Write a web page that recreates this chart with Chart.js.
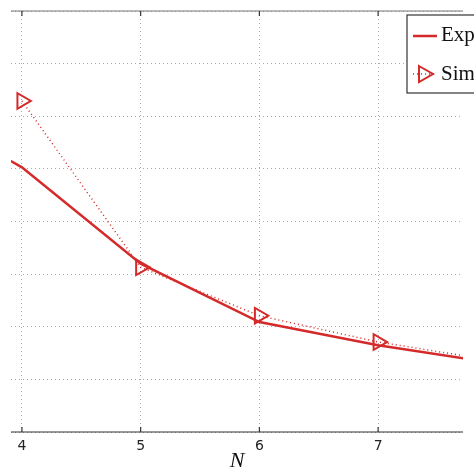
<!DOCTYPE html>
<html>
<head>
<meta charset="UTF-8">
<script src="https://cdn.jsdelivr.net/npm/chart.js"></script>
<style>
  html, body { margin: 0; padding: 0; background: #fff; }
  #wrap { width: 474px; height: 474px; }
</style>
</head>
<body>
<div id="wrap"><canvas id="c"></canvas></div>
<script>
// values (y axis has no visible labels, arbitrary units)
const expN = [3, 4, 5, 6, 7, 8];
const expVal = [6.3, 5.03, 3.2, 2.09, 1.65, 1.3];
const simN = [4, 5, 6, 7, 8];
const simVal = [6.29, 3.13, 2.21, 1.71, 1.35];
const xTicks = [4, 5, 6, 7];

const red = '#d42a2a';

const frame = {
  id: 'frame',
  afterDraw(chart) {
    const { ctx, chartArea: a } = chart;
    ctx.save();
    ctx.strokeStyle = '#777';
    ctx.lineWidth = 1.2;
    ctx.beginPath(); ctx.moveTo(a.left, a.top); ctx.lineTo(a.right, a.top); ctx.stroke();
    ctx.strokeStyle = '#333';
    ctx.beginPath(); ctx.moveTo(a.left, a.bottom); ctx.lineTo(a.right, a.bottom); ctx.stroke();
    // tick marks inward
    const xs = chart.scales.x;
    xTicks.forEach(v => {
      const px = xs.getPixelForValue(v);
      ctx.beginPath(); ctx.moveTo(px, a.bottom); ctx.lineTo(px, a.bottom - 5); ctx.stroke();
      ctx.beginPath(); ctx.moveTo(px, a.top); ctx.lineTo(px, a.top + 5); ctx.stroke();
    });
    // legend box
    ctx.fillStyle = '#fff';
    ctx.fillRect(407, 15, 80, 78);
    ctx.strokeStyle = '#333';
    ctx.lineWidth = 1.2;
    ctx.strokeRect(407, 15, 80, 78);
    ctx.strokeStyle = red;
    ctx.lineWidth = 2.5;
    ctx.beginPath(); ctx.moveTo(413, 36); ctx.lineTo(437, 36); ctx.stroke();
    ctx.lineWidth = 1.5;
    ctx.setLineDash([1, 3]);
    ctx.beginPath(); ctx.moveTo(413, 74); ctx.lineTo(437, 74); ctx.stroke();
    ctx.setLineDash([]);
    ctx.lineWidth = 2;
    ctx.beginPath(); ctx.moveTo(419, 66); ctx.lineTo(433, 74); ctx.lineTo(419, 82); ctx.closePath(); ctx.stroke();
    ctx.fillStyle = '#111';
    ctx.font = '21px "Liberation Serif"';
    ctx.textBaseline = 'middle';
    ctx.fillText('Experiment', 441, 35);
    ctx.fillText('Simulation', 441, 74);
    ctx.restore();
  }
};

new Chart(document.getElementById('c'), {
  type: 'scatter',
  data: {
    datasets: [
      {
        label: 'Experiment',
        data: expN.map((n, i) => ({ x: n, y: expVal[i] })),
        showLine: true,
        borderColor: red,
        borderWidth: 2.5,
        pointRadius: 0
      },
      {
        label: 'Simulation',
        data: simN.map((n, i) => ({ x: n, y: simVal[i] })),
        showLine: true,
        borderColor: red,
        borderWidth: 1.5,
        borderDash: [1, 3],
        pointStyle: 'triangle',
        rotation: 90,
        pointRadius: 9,
        pointBorderWidth: 2,
        pointBackgroundColor: 'rgba(0,0,0,0)',
        pointBorderColor: red
      }
    ]
  },
  options: {
    responsive: true,
    maintainAspectRatio: false,
    animation: false,
    layout: { padding: { top: 10, left: 0, right: 0, bottom: 0 } },
    plugins: { legend: { display: false }, tooltip: { enabled: false } },
    scales: {
      x: {
        type: 'linear',
        min: 3.908,
        max: 7.715,
        afterBuildTicks: s => { s.ticks = xTicks.map(v => ({ value: v })); },
        afterFit: s => { s.height = 42; s.paddingLeft = 0; s.paddingRight = 0; },
        grid: { color: '#aaa', drawTicks: false },
        border: { display: false, dash: [1, 3] },
        ticks: { color: '#222', font: { family: 'DejaVu Sans', size: 14 }, padding: 6 },
        title: { display: true, text: 'N', color: '#111', padding: 0,
                 font: { family: 'Liberation Serif', size: 22, style: 'italic' } }
      },
      y: {
        min: 0,
        max: 8,
        afterFit: s => { s.width = 0; s.paddingTop = 0; s.paddingBottom = 0; },
        ticks: { display: false, stepSize: 1 },
        grid: { color: '#aaa', drawTicks: false },
        border: { display: false, dash: [1, 3] }
      }
    }
  },
  plugins: [frame]
});
</script>
</body>
</html>
